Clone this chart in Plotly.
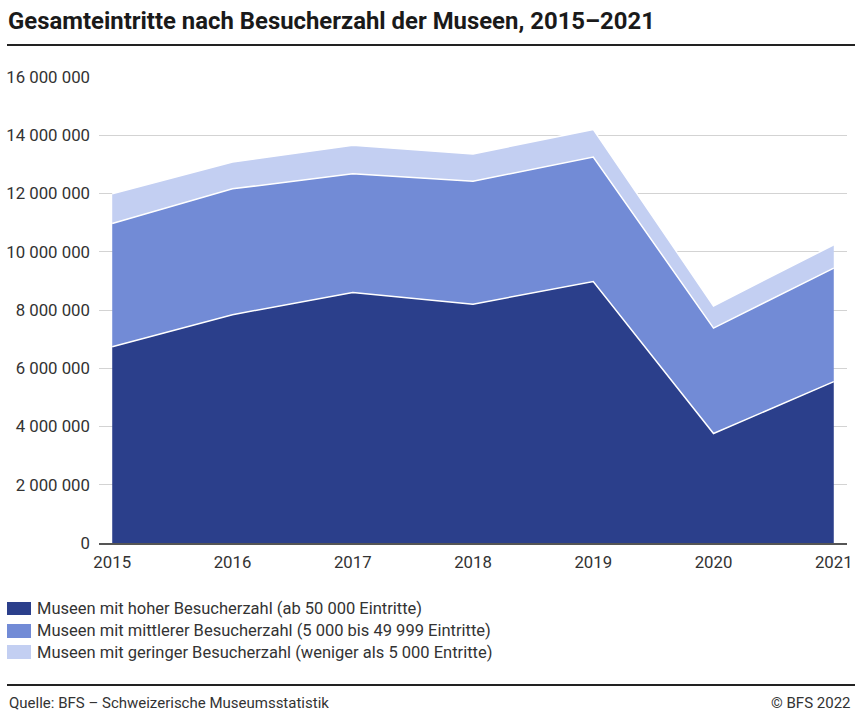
import plotly.graph_objects as go

years = [2015, 2016, 2017, 2018, 2019, 2020, 2021]
hoch = [6740000, 7840000, 8600000, 8200000, 8980000, 3760000, 5540000]
mittel = [4230000, 4320000, 4080000, 4220000, 4270000, 3620000, 3900000]
gering = [1020000, 920000, 980000, 940000, 950000, 760000, 800000]

series_names = [
    "Museen mit hoher Besucherzahl (ab 50 000 Eintritte)",
    "Museen mit mittlerer Besucherzahl (5 000 bis 49 999 Eintritte)",
    "Museen mit geringer Besucherzahl (weniger als 5 000 Entritte)",
]
colors = ["#2b3f8b", "#728bd6", "#c3cff2"]
y_ticks = [0, 2000000, 4000000, 6000000, 8000000, 10000000, 12000000, 14000000, 16000000]

FONT = "Roboto"
W, H = 862, 721
L, R, T, B = 99, 847, 77, 543


def px(x):
    return (x - L) / (R - L)


def py(y):
    return (B - y) / (B - T)


fig = go.Figure()
for name, vals, col in zip(series_names, [hoch, mittel, gering], colors):
    fig.add_trace(go.Scatter(
        x=years, y=vals, name=name, stackgroup="one", mode="lines",
        line=dict(color="white", width=1.5), fillcolor=col,
        hovertemplate="%{x}: %{y:,}<extra></extra>",
    ))

shapes = [
    dict(type="line", xref="paper", yref="paper", x0=px(7), x1=px(855), y0=py(45), y1=py(45),
         line=dict(color="#222222", width=2)),
    dict(type="line", xref="paper", yref="paper", x0=px(7), x1=px(855), y0=py(685), y1=py(685),
         line=dict(color="#222222", width=2)),
]
annotations = [
    dict(text="Quelle: BFS – Schweizerische Museumsstatistik", xref="paper", yref="paper",
         x=px(7), y=py(703), xanchor="left", yanchor="middle", showarrow=False,
         font=dict(family=FONT, size=15, color="#333333")),
    dict(text="© BFS 2022", xref="paper", yref="paper",
         x=px(853), y=py(703), xanchor="right", yanchor="middle", showarrow=False,
         font=dict(family=FONT, size=15, color="#333333")),
]
rows = [(602, 615, 608.5), (624, 638, 630.5), (645, 659, 652)]
for (y0, y1, yc), name, col in zip(rows, series_names, colors):
    shapes.append(dict(type="rect", xref="paper", yref="paper", x0=px(7), x1=px(31),
                       y0=py(y0), y1=py(y1), fillcolor=col, line=dict(width=0)))
    annotations.append(dict(text=name, xref="paper", yref="paper", x=px(35), y=py(yc),
                            xanchor="left", yanchor="middle", showarrow=False,
                            font=dict(family=FONT, size=16.5, color="#333333")))

fig.update_layout(
    width=W, height=H,
    margin=dict(l=L, r=W - R, t=T, b=H - B, autoexpand=False),
    paper_bgcolor="white", plot_bgcolor="white",
    separators=", ",
    showlegend=False,
    font=dict(family=FONT, size=16, color="#333333"),
    title=dict(text="<b>Gesamteintritte nach Besucherzahl der Museen, 2015–2021</b>",
               xref="container", yref="container", x=8 / W, y=1 - 21 / H,
               xanchor="left", yanchor="middle",
               font=dict(family=FONT, size=23.9, color="#1a1a1a")),
    xaxis=dict(range=[2014.89, 2021.11], tickvals=years, ticktext=[str(y) for y in years],
               showgrid=False, zeroline=False, showline=True, linecolor="#555555", linewidth=1.5,
               automargin=False,
               ticks="", tickfont=dict(family=FONT, size=16.8, color="#333333"), ticklabelstandoff=3),
    yaxis=dict(range=[0, 16000000], tickvals=y_ticks, tickformat=",d",
               showgrid=True, gridcolor="#d3d3d3", gridwidth=1, zeroline=False, showline=False,
               automargin=False,
               ticks="", tickfont=dict(family=FONT, size=16.8, color="#333333"), ticklabelstandoff=8),
    shapes=shapes,
    annotations=annotations,
)

fig.write_html("out.html")
